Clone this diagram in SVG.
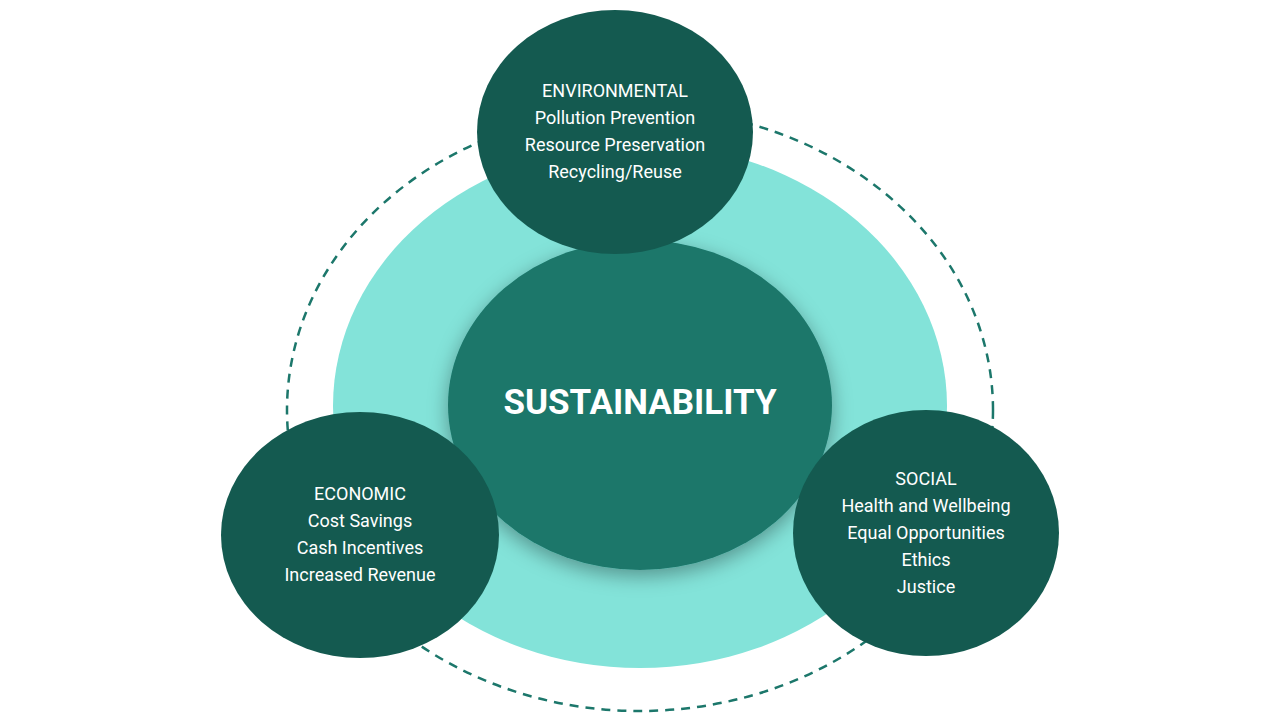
<svg xmlns="http://www.w3.org/2000/svg" width="1280" height="720" viewBox="0 0 1280 720">
<style>
.n{fill:#145A50}
.t{font-family:Roboto,"Liberation Sans",sans-serif;font-size:18px;fill:#fff;text-anchor:middle}
</style>
<defs>
<filter id="sh" x="-20%" y="-20%" width="140%" height="140%"><feDropShadow dx="0" dy="6" stdDeviation="10" flood-color="#000" flood-opacity="0.35"/></filter>
</defs>
<rect width="1280" height="720" fill="#fff"/>
<g id="connectors">
<ellipse cx="640" cy="410" rx="353" ry="301" fill="none" stroke="#1C776B" stroke-width="2.5" stroke-dasharray="9 7"/>
</g>
<g id="ring"><ellipse cx="640" cy="406" rx="307" ry="262" fill="#83E3D9"/></g>
<g id="center">
<ellipse cx="640" cy="405" rx="192" ry="165" fill="#1C776B" filter="url(#sh)"/>
<text x="640" y="414" font-family="Roboto,'Liberation Sans',sans-serif" font-size="35" font-weight="bold" fill="#fff" text-anchor="middle">SUSTAINABILITY</text>
</g>
<g id="environmental">
<ellipse class="n" cx="615" cy="132" rx="138" ry="122"/>
<text class="t" x="615" y="97">ENVIRONMENTAL</text>
<text class="t" x="615" y="124">Pollution Prevention</text>
<text class="t" x="615" y="151">Resource Preservation</text>
<text class="t" x="615" y="178">Recycling/Reuse</text>
</g>
<g id="economic">
<ellipse class="n" cx="360" cy="535" rx="139" ry="123"/>
<text class="t" x="360" y="500">ECONOMIC</text>
<text class="t" x="360" y="527">Cost Savings</text>
<text class="t" x="360" y="554">Cash Incentives</text>
<text class="t" x="360" y="581">Increased Revenue</text>
</g>
<g id="social">
<ellipse class="n" cx="926" cy="533" rx="133" ry="123"/>
<text class="t" x="926" y="485">SOCIAL</text>
<text class="t" x="926" y="512">Health and Wellbeing</text>
<text class="t" x="926" y="539">Equal Opportunities</text>
<text class="t" x="926" y="566">Ethics</text>
<text class="t" x="926" y="593">Justice</text>
</g>
</svg>
